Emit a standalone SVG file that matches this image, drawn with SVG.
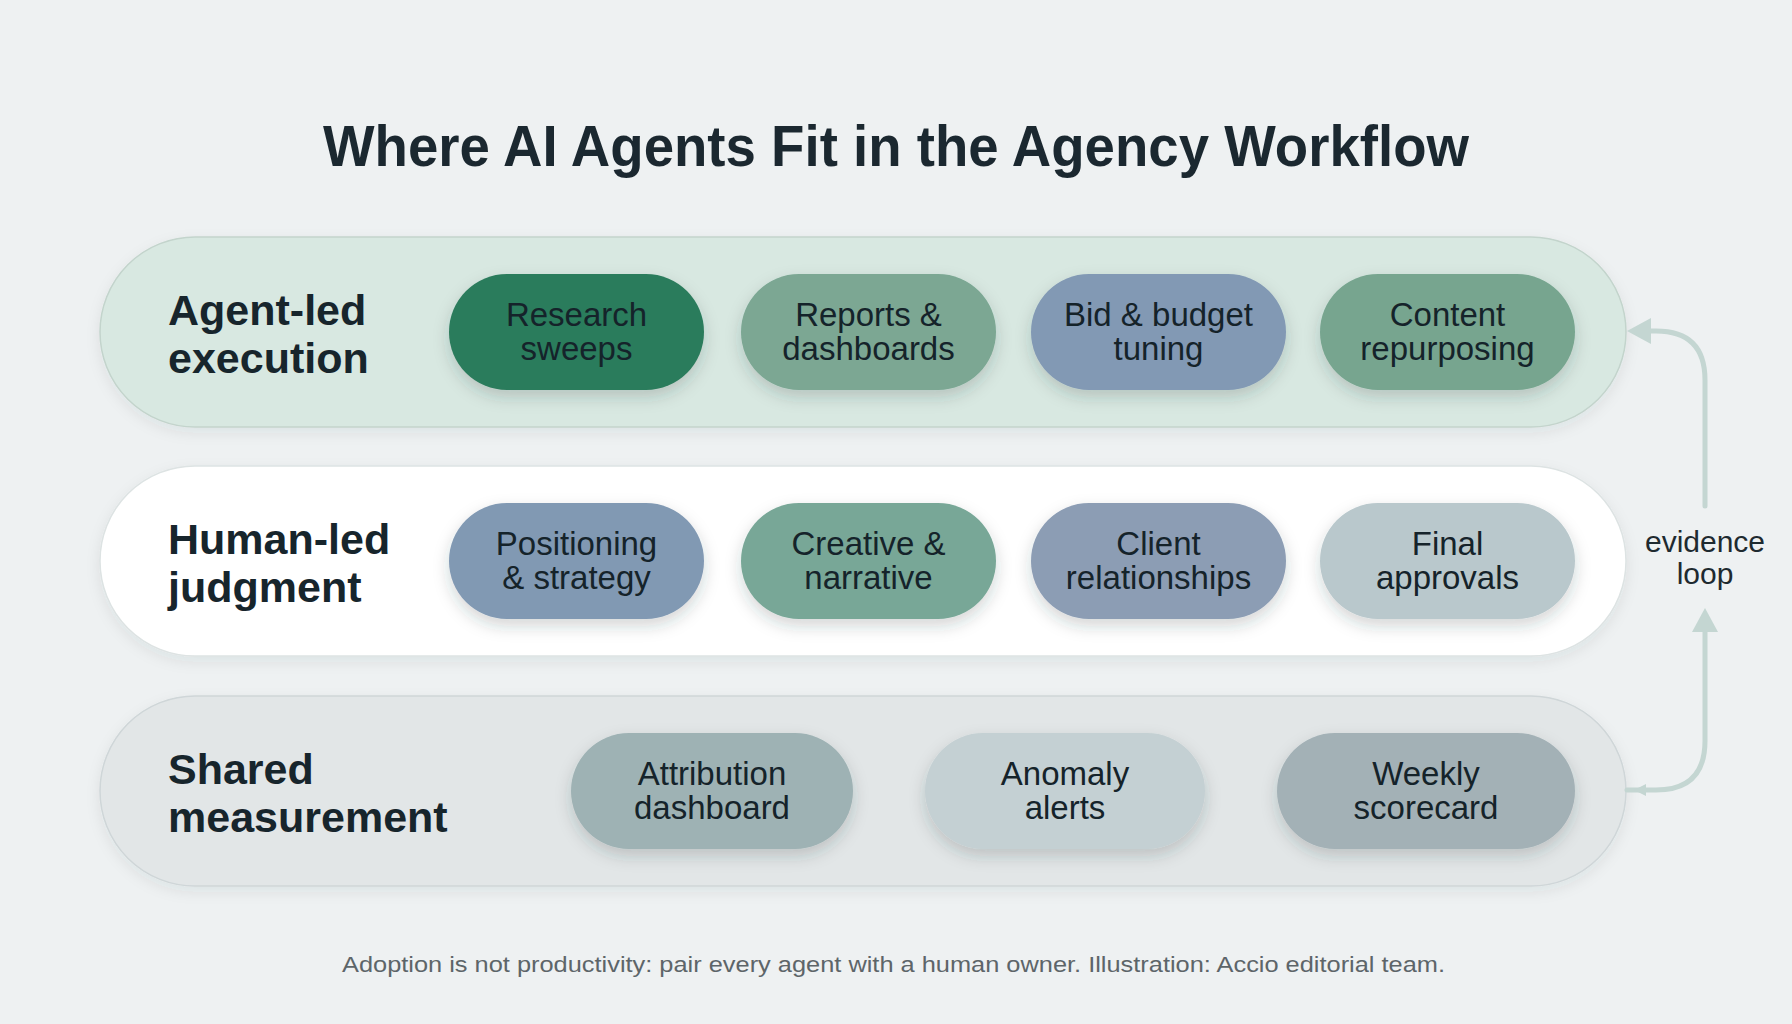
<svg xmlns="http://www.w3.org/2000/svg" width="1792" height="1024" viewBox="0 0 1792 1024">
  <defs>
    <filter id="bandShadow" x="-5%" y="-20%" width="110%" height="150%">
      <feDropShadow dx="0" dy="5" stdDeviation="7" flood-color="#2a3a3a" flood-opacity="0.08"/>
    </filter>
    <filter id="pillShadow" x="-20%" y="-30%" width="140%" height="170%">
      <feDropShadow dx="0" dy="7" stdDeviation="8" flood-color="#1e3430" flood-opacity="0.2"/>
    </filter>
    <marker id="arrow" viewBox="0 0 24 26" markerWidth="24" markerHeight="26" refX="4" refY="13" orient="auto" markerUnits="userSpaceOnUse">
      <path d="M0,0 L24,13 L0,26 z" fill="#c4d6d2"/>
    </marker>
    <marker id="tick" viewBox="0 0 12 12" markerWidth="12" markerHeight="12" refX="19" refY="6" orient="auto-start-reverse" markerUnits="userSpaceOnUse">
      <path d="M0,0 L12,6 L0,12 z" fill="#c4d6d2"/>
    </marker>
  </defs>
  <style>
    .title { font-family: "Liberation Sans", Arial, sans-serif; font-weight: 700; font-size: 57px; fill: #1b2830; }
    .lane { font-family: "Liberation Sans", Arial, sans-serif; font-weight: 700; font-size: 43px; fill: #17252c; }
    .pill { font-family: "Liberation Sans", Arial, sans-serif; font-size: 33px; fill: #15232a; text-anchor: middle; }
    .note { font-family: "Liberation Sans", Arial, sans-serif; font-size: 30px; fill: #1e2a30; text-anchor: middle; }
    .foot { font-family: "Liberation Sans", Arial, sans-serif; font-size: 22px; fill: #5d6569; text-anchor: middle; }
    .conn { fill: none; stroke: #c4d6d2; stroke-width: 5; stroke-linecap: round; }
  </style>

  <rect x="0" y="0" width="1792" height="1024" fill="#eef1f2"/>

  <text class="title" x="896" y="166" text-anchor="middle" textLength="1146" lengthAdjust="spacingAndGlyphs">Where AI Agents Fit in the Agency Workflow</text>

  <!-- Lanes -->
  <g id="lane-agent">
    <rect x="100" y="237" width="1526" height="190" rx="95" fill="#d8e8e1" stroke="#c3d4cc" stroke-width="1.5" filter="url(#bandShadow)"/>
    <text class="lane" x="168" y="325">Agent-led</text>
    <text class="lane" x="168" y="373">execution</text>
  </g>
  <g id="lane-human">
    <rect x="100" y="466" width="1526" height="190" rx="95" fill="#ffffff" stroke="#dde3e3" stroke-width="1.5" filter="url(#bandShadow)"/>
    <text class="lane" x="168" y="554">Human-led</text>
    <text class="lane" x="168" y="602">judgment</text>
  </g>
  <g id="lane-shared">
    <rect x="100" y="696" width="1526" height="190" rx="95" fill="#e2e6e7" stroke="#cfd6d8" stroke-width="1.5" filter="url(#bandShadow)"/>
    <text class="lane" x="168" y="784">Shared</text>
    <text class="lane" x="168" y="832">measurement</text>
  </g>

  <!-- Row 1 pills -->
  <g id="research-sweeps">
    <rect x="449" y="274" width="255" height="116" rx="58" fill="#2c7b5c" filter="url(#pillShadow)"/>
    <text class="pill" x="576.5" y="326">Research</text>
    <text class="pill" x="576.5" y="360">sweeps</text>
  </g>
  <g id="reports-dashboards">
    <rect x="741" y="274" width="255" height="116" rx="58" fill="#7ba793" filter="url(#pillShadow)"/>
    <text class="pill" x="868.5" y="326">Reports &amp;</text>
    <text class="pill" x="868.5" y="360">dashboards</text>
  </g>
  <g id="bid-budget">
    <rect x="1031" y="274" width="255" height="116" rx="58" fill="#8299b4" filter="url(#pillShadow)"/>
    <text class="pill" x="1158.5" y="326">Bid &amp; budget</text>
    <text class="pill" x="1158.5" y="360">tuning</text>
  </g>
  <g id="content-repurposing">
    <rect x="1320" y="274" width="255" height="116" rx="58" fill="#77a58f" filter="url(#pillShadow)"/>
    <text class="pill" x="1447.5" y="326">Content</text>
    <text class="pill" x="1447.5" y="360">repurposing</text>
  </g>

  <!-- Row 2 pills -->
  <g id="positioning-strategy">
    <rect x="449" y="503" width="255" height="116" rx="58" fill="#8199b3" filter="url(#pillShadow)"/>
    <text class="pill" x="576.5" y="555">Positioning</text>
    <text class="pill" x="576.5" y="589">&amp; strategy</text>
  </g>
  <g id="creative-narrative">
    <rect x="741" y="503" width="255" height="116" rx="58" fill="#78a797" filter="url(#pillShadow)"/>
    <text class="pill" x="868.5" y="555">Creative &amp;</text>
    <text class="pill" x="868.5" y="589">narrative</text>
  </g>
  <g id="client-relationships">
    <rect x="1031" y="503" width="255" height="116" rx="58" fill="#8c9db4" filter="url(#pillShadow)"/>
    <text class="pill" x="1158.5" y="555">Client</text>
    <text class="pill" x="1158.5" y="589">relationships</text>
  </g>
  <g id="final-approvals">
    <rect x="1320" y="503" width="255" height="116" rx="58" fill="#b9c8cc" filter="url(#pillShadow)"/>
    <text class="pill" x="1447.5" y="555">Final</text>
    <text class="pill" x="1447.5" y="589">approvals</text>
  </g>

  <!-- Row 3 pills -->
  <g id="attribution-dashboard">
    <rect x="571" y="733" width="282" height="116" rx="58" fill="#9eb2b4" filter="url(#pillShadow)"/>
    <text class="pill" x="712" y="785">Attribution</text>
    <text class="pill" x="712" y="819">dashboard</text>
  </g>
  <g id="anomaly-alerts">
    <rect x="925" y="733" width="280" height="116" rx="58" fill="#c4d0d3" filter="url(#pillShadow)"/>
    <text class="pill" x="1065" y="785">Anomaly</text>
    <text class="pill" x="1065" y="819">alerts</text>
  </g>
  <g id="weekly-scorecard">
    <rect x="1277" y="733" width="298" height="116" rx="58" fill="#a3b1b6" filter="url(#pillShadow)"/>
    <text class="pill" x="1426" y="785">Weekly</text>
    <text class="pill" x="1426" y="819">scorecard</text>
  </g>

  <!-- Evidence loop -->
  <g id="connectors">
    <path class="conn" d="M1627,790 L1656,790 Q1705,790 1705,741 L1705,628" marker-start="url(#tick)" marker-end="url(#arrow)"/>
    <path class="conn" d="M1705,506 L1705,380 Q1705,331 1656,331 L1647,331" marker-end="url(#arrow)"/>
  </g>
  <g id="evidence-loop-label">
    <text class="note" x="1705" y="552">evidence</text>
    <text class="note" x="1705" y="584">loop</text>
  </g>

  <text class="foot" x="893.5" y="972" textLength="1103" lengthAdjust="spacingAndGlyphs">Adoption is not productivity: pair every agent with a human owner. Illustration: Accio editorial team.</text>
</svg>
